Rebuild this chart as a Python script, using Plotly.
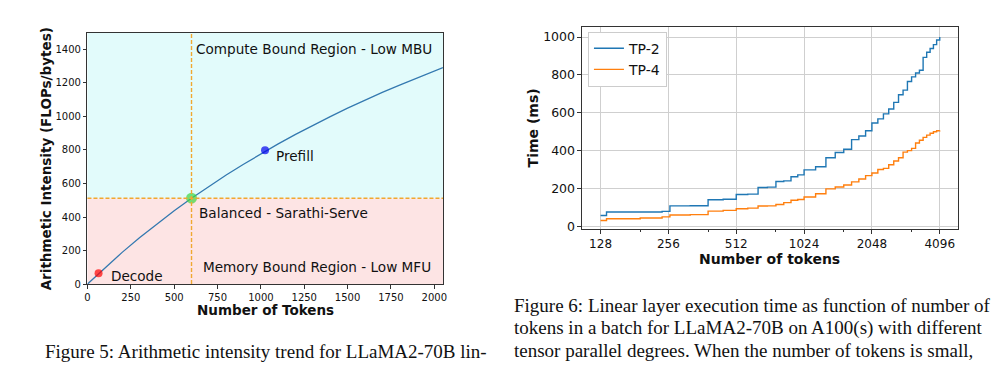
import plotly.graph_objects as go

# ---------------- Figure 5 data ----------------
tokens_ai = [0, 100, 200, 300, 400, 500, 600, 700, 800, 900, 1000, 1100, 1200,
             1300, 1400, 1500, 1600, 1700, 1800, 1900, 2000, 2050]
intensity = [0, 97, 189, 276, 359, 437, 512, 583, 651, 715, 777, 836, 893,
             947, 999, 1049, 1097, 1143, 1187, 1230, 1271, 1291]
point_names = ["Decode", "Balanced - Sarathi-Serve", "Prefill"]
point_x = [64, 600, 1024]
point_y = [64, 512, 798]
balance_x = 600
balance_y = 512

# ---------------- Figure 6 data ----------------
tp_tokens = [128, 136, 192, 240, 260, 320, 384, 448, 512, 576, 640, 704, 768, 832,
             896, 960, 1024, 1152, 1280, 1408, 1536, 1664, 1792, 1920, 2048, 2176,
             2304, 2432, 2560, 2688, 2816, 2944, 3072, 3200, 3328, 3456, 3584, 3712,
             3840, 3968, 4096]
tp2_ms = [57, 76, 76, 79, 108, 109, 140, 143, 168, 170, 205, 207, 237, 240,
          262, 272, 298, 315, 362, 390, 407, 458, 477, 505, 546, 568,
          594, 620, 655, 695, 720, 765, 790, 810, 825, 893, 920, 940,
          960, 985, 1000]
tp4_ms = [31, 40, 44, 50, 60, 62, 80, 84, 93, 96, 107, 108, 115, 125,
          138, 142, 155, 172, 198, 208, 218, 235, 250, 268, 282, 300,
          306, 325, 345, 362, 392, 400, 412, 440, 455, 470, 482, 492,
          500, 505, 506]
x_ticks = [128, 256, 512, 1024, 2048, 4096]
y_ticks6 = [0, 200, 400, 600, 800, 1000]

W, H = 1003, 379
OFF = 8  # page body margin
def px(x):
    return (x - OFF) / W
def py(y):
    return 1 - (y - OFF) / H

BLUE = "#1f77b4"
ORANGE = "#ff7f0e"
SANS = "DejaVu Sans"
SERIF = "Liberation Serif"
DASH = "#f0a830"

fig = go.Figure()

fig.add_trace(go.Scatter(x=tokens_ai, y=intensity, mode="lines",
                         line=dict(color="#3479b0", width=1.3),
                         xaxis="x", yaxis="y", showlegend=False, hoverinfo="skip"))
fig.add_trace(go.Scatter(x=point_x, y=point_y, mode="markers",
                         marker=dict(color=["#ff0000", "#3fd63f", "#0000ee"],
                                     size=[8, 11, 8], line=dict(width=0)),
                         xaxis="x", yaxis="y", showlegend=False, hoverinfo="skip"))

fig.add_trace(go.Scatter(x=tp_tokens, y=tp2_ms, mode="lines", name="TP-2",
                         line=dict(color=BLUE, width=1.4, shape="hv"),
                         xaxis="x2", yaxis="y2"))
fig.add_trace(go.Scatter(x=tp_tokens, y=tp4_ms, mode="lines", name="TP-4",
                         line=dict(color=ORANGE, width=1.4, shape="hv"),
                         xaxis="x2", yaxis="y2"))

shapes = [
    dict(type="rect", xref="x domain", yref="y", x0=0, x1=1, y0=balance_y, y1=1500,
         fillcolor="#e2fbfb", line=dict(width=0), layer="below"),
    dict(type="rect", xref="x domain", yref="y", x0=0, x1=1, y0=0, y1=balance_y,
         fillcolor="#fde4e4", line=dict(width=0), layer="below"),
    dict(type="line", xref="x", yref="y domain", x0=balance_x, x1=balance_x, y0=0, y1=1,
         line=dict(color=DASH, width=1.4, dash="4px,2px")),
    dict(type="line", xref="x domain", yref="y", x0=0, x1=1, y0=balance_y, y1=balance_y,
         line=dict(color=DASH, width=1.3, dash="4px,2px")),
]

ann_font = dict(family=SANS, size=13.6, color="#111")
annotations = [
    dict(xref="x", yref="y", x=2000, y=1400, text="Compute Bound Region - Low MBU",
         xanchor="right", yanchor="middle", showarrow=False, font=ann_font),
    dict(xref="x", yref="y", x=1995, y=100, text="Memory Bound Region - Low MFU",
         xanchor="right", yanchor="middle", showarrow=False, font=ann_font),
    dict(xref="x", yref="y", x=632, y=424, text=point_names[1],
         xanchor="left", yanchor="middle", showarrow=False, font=ann_font),
    dict(xref="x", yref="y", x=1077, y=765, text=point_names[2],
         xanchor="left", yanchor="middle", showarrow=False, font=ann_font),
    dict(xref="x", yref="y", x=124, y=47, text=point_names[0],
         xanchor="left", yanchor="middle", showarrow=False, font=ann_font),
    # axis titles
    dict(xref="paper", yref="paper", x=px(264), y=py(315), text="<b>Number of Tokens</b>",
         xanchor="center", yanchor="middle", showarrow=False,
         font=dict(family=SANS, size=13.5, color="#111")),
    dict(xref="paper", yref="paper", x=px(43), y=py(161),
         text="<b>Arithmetic Intensity (FLOPs/bytes)</b>", textangle=-90,
         xanchor="center", yanchor="middle", showarrow=False,
         font=dict(family=SANS, size=13.5, color="#111")),
    dict(xref="paper", yref="paper", x=px(772), y=py(263), text="<b>Number of tokens</b>",
         xanchor="center", yanchor="middle", showarrow=False,
         font=dict(family=SANS, size=14, color="#111")),
    dict(xref="paper", yref="paper", x=px(534), y=py(130), text="<b>Time (ms)</b>",
         textangle=-90, xanchor="center", yanchor="middle", showarrow=False,
         font=dict(family=SANS, size=14, color="#111")),
    # captions
    dict(xref="paper", yref="paper", x=px(40), y=py(357),
         text="Figure 5: Arithmetic intensity trend for LLaMA2-70B lin-",
         xanchor="left", yanchor="middle", showarrow=False,
         font=dict(family=SERIF, size=19, color="#111")),
    dict(xref="paper", yref="paper", x=px(513), y=py(310),
         text="Figure 6: Linear layer execution time as function of number of",
         xanchor="left", yanchor="middle", showarrow=False,
         font=dict(family=SERIF, size=19, color="#111")),
    dict(xref="paper", yref="paper", x=px(513), y=py(333),
         text="tokens in a batch for LLaMA2-70B on A100(s) with different",
         xanchor="left", yanchor="middle", showarrow=False,
         font=dict(family=SERIF, size=19, color="#111")),
    dict(xref="paper", yref="paper", x=px(513), y=py(356),
         text="tensor parallel degrees. When the number of tokens is small,",
         xanchor="left", yanchor="middle", showarrow=False,
         font=dict(family=SERIF, size=19, color="#111")),
]

axis_common = dict(showline=True, linecolor="#333", linewidth=1, mirror=True,
                   ticks="outside", ticklen=3.5, tickcolor="#333", zeroline=False)

fig.update_layout(
    width=W, height=H,
    margin=dict(l=0, r=0, t=0, b=0),
    paper_bgcolor="white", plot_bgcolor="white",
    font=dict(family=SANS, color="#111"),
    xaxis=dict(domain=[px(85), px(443)], range=[0, 2050], anchor="y",
               tickvals=list(range(0, 2001, 250)), showgrid=False,
               tickfont=dict(size=10), **axis_common),
    yaxis=dict(domain=[py(288.5), py(33)], range=[0, 1500], anchor="x",
               tickvals=list(range(0, 1401, 200)), showgrid=False,
               tickfont=dict(size=10), **axis_common),
    xaxis2=dict(domain=[px(583), px(962)], type="log", range=[2.0247, 3.6949],
                anchor="y2", tickvals=x_ticks, ticktext=[str(v) for v in x_ticks],
                showgrid=True, gridcolor="#cfcfcf", gridwidth=1,
                minor=dict(tickvals=[192, 384, 768, 1536, 3072], ticks="outside",
                           ticklen=2, tickcolor="#333", showgrid=False),
                tickfont=dict(size=12), **axis_common),
    yaxis2=dict(domain=[py(232.7), py(27)], range=[-15, 1055], anchor="x2",
                tickvals=y_ticks6, showgrid=True, gridcolor="#cfcfcf", gridwidth=1,
                tickfont=dict(size=12.5), **axis_common),
    legend=dict(x=px(589), y=py(32), xanchor="left", yanchor="top",
                bgcolor="white", bordercolor="#cccccc", borderwidth=1,
                font=dict(family=SANS, size=14, color="#111"),
                itemwidth=30, tracegroupgap=2),
    shapes=shapes,
    annotations=annotations,
)

fig.write_html("out.html")
